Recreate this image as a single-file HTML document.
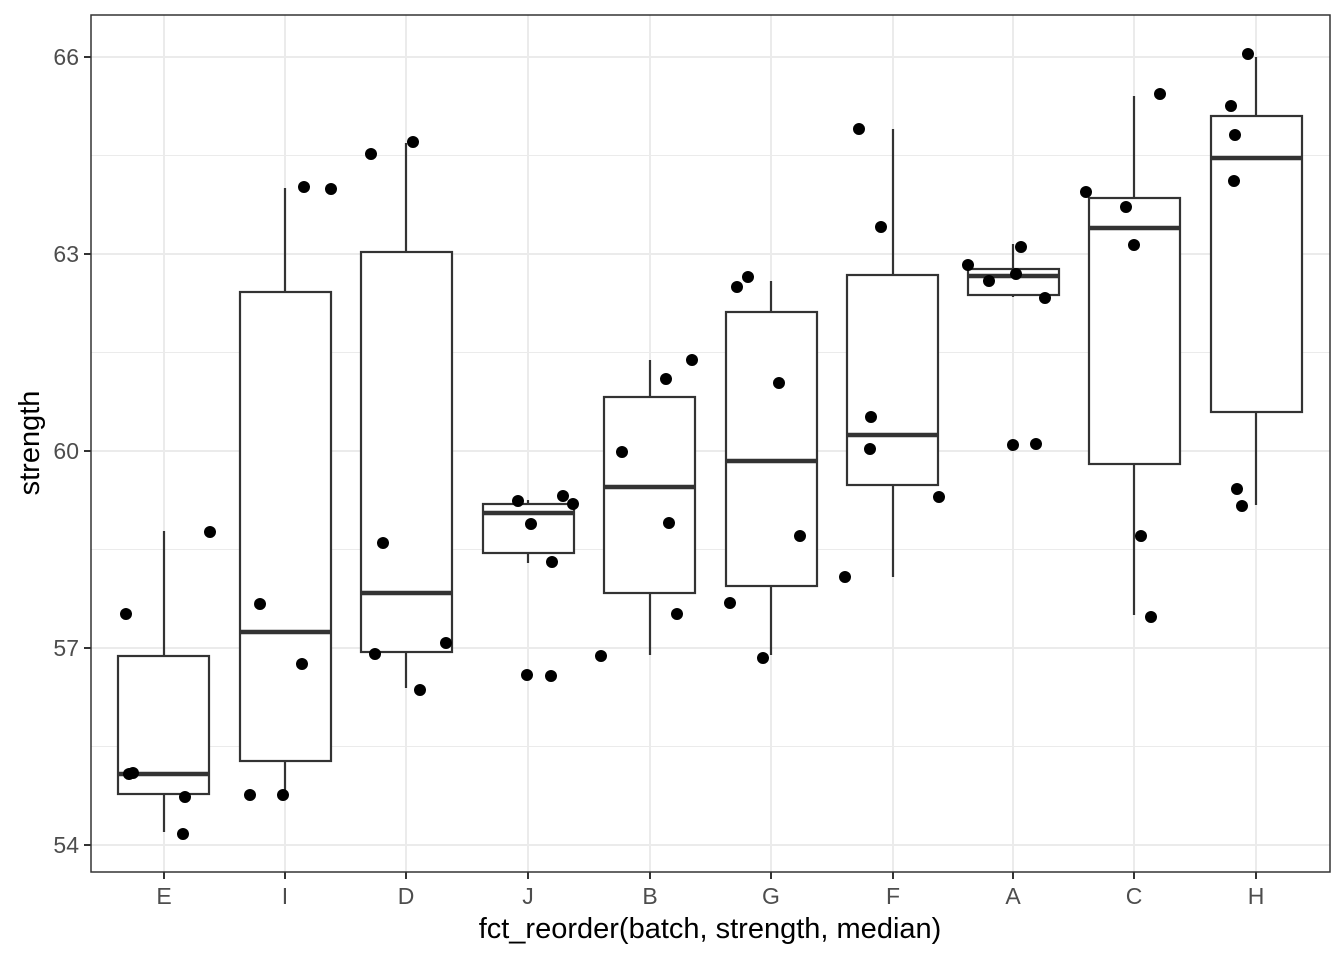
<!DOCTYPE html>
<html><head><style>body{margin:0;background:#fff}svg{display:block}</style></head><body>
<svg width="1344" height="960" xmlns="http://www.w3.org/2000/svg" font-family="Liberation Sans, sans-serif">
<rect width="1344" height="960" fill="#fff"/>
<g stroke="#ebebeb" stroke-width="1">
<line x1="91" x2="1330" y1="155.5" y2="155.5"/><line x1="91" x2="1330" y1="352.5" y2="352.5"/><line x1="91" x2="1330" y1="549.5" y2="549.5"/><line x1="91" x2="1330" y1="746.5" y2="746.5"/>
</g>
<g stroke="#ebebeb" stroke-width="2">
<line x1="91" x2="1330" y1="57" y2="57"/><line x1="91" x2="1330" y1="254" y2="254"/><line x1="91" x2="1330" y1="451" y2="451"/><line x1="91" x2="1330" y1="648" y2="648"/><line x1="91" x2="1330" y1="845" y2="845"/>
<line y1="15" y2="872" x1="164" x2="164"/><line y1="15" y2="872" x1="285" x2="285"/><line y1="15" y2="872" x1="406" x2="406"/><line y1="15" y2="872" x1="528" x2="528"/><line y1="15" y2="872" x1="650" x2="650"/><line y1="15" y2="872" x1="771" x2="771"/><line y1="15" y2="872" x1="893" x2="893"/><line y1="15" y2="872" x1="1013" x2="1013"/><line y1="15" y2="872" x1="1134" x2="1134"/><line y1="15" y2="872" x1="1256" x2="1256"/>
</g>
<g stroke="#333" stroke-width="2.2" fill="#fff">
<line x1="164" x2="164" y1="832" y2="531"/><rect x="118" y="656" width="91" height="138"/><line x1="118" x2="209" y1="774" y2="774" stroke-width="4.5"/>
<line x1="285" x2="285" y1="800" y2="188"/><rect x="240" y="292" width="91" height="469"/><line x1="240" x2="331" y1="632" y2="632" stroke-width="4.5"/>
<line x1="406" x2="406" y1="688" y2="143"/><rect x="361" y="252" width="91" height="400"/><line x1="361" x2="452" y1="593" y2="593" stroke-width="4.5"/>
<line x1="528" x2="528" y1="563" y2="500"/><rect x="483" y="504" width="91" height="49"/><line x1="483" x2="574" y1="513" y2="513" stroke-width="4.5"/>
<line x1="650" x2="650" y1="655" y2="360"/><rect x="604" y="397" width="91" height="196"/><line x1="604" x2="695" y1="487" y2="487" stroke-width="4.5"/>
<line x1="771" x2="771" y1="655" y2="281"/><rect x="726" y="312" width="91" height="274"/><line x1="726" x2="817" y1="461" y2="461" stroke-width="4.5"/>
<line x1="893" x2="893" y1="577" y2="129"/><rect x="847" y="275" width="91" height="210"/><line x1="847" x2="938" y1="435" y2="435" stroke-width="4.5"/>
<line x1="1013" x2="1013" y1="297" y2="244"/><rect x="968" y="269" width="91" height="26"/><line x1="968" x2="1059" y1="276" y2="276" stroke-width="4.5"/>
<line x1="1134" x2="1134" y1="615" y2="96"/><rect x="1089" y="198" width="91" height="266"/><line x1="1089" x2="1180" y1="228" y2="228" stroke-width="4.5"/>
<line x1="1256" x2="1256" y1="505" y2="57"/><rect x="1211" y="116" width="91" height="296"/><line x1="1211" x2="1302" y1="158" y2="158" stroke-width="4.5"/>
</g>
<g fill="#000">
<circle cx="126" cy="614" r="6"/><circle cx="129" cy="774" r="6"/><circle cx="133" cy="773" r="6"/><circle cx="185" cy="797" r="6"/><circle cx="183" cy="834" r="6"/><circle cx="210" cy="532" r="6"/>
<circle cx="250" cy="795" r="6"/><circle cx="283" cy="795" r="6"/><circle cx="260" cy="604" r="6"/><circle cx="302" cy="664" r="6"/><circle cx="304" cy="187" r="6"/><circle cx="331" cy="189" r="6"/>
<circle cx="371" cy="154" r="6"/><circle cx="413" cy="142" r="6"/><circle cx="383" cy="543" r="6"/><circle cx="375" cy="654" r="6"/><circle cx="420" cy="690" r="6"/><circle cx="446" cy="643" r="6"/>
<circle cx="518" cy="501" r="6"/><circle cx="531" cy="524" r="6"/><circle cx="563" cy="496" r="6"/><circle cx="573" cy="504" r="6"/><circle cx="552" cy="562" r="6"/><circle cx="527" cy="675" r="6"/><circle cx="551" cy="676" r="6"/>
<circle cx="622" cy="452" r="6"/><circle cx="666" cy="379" r="6"/><circle cx="692" cy="360" r="6"/><circle cx="669" cy="523" r="6"/><circle cx="677" cy="614" r="6"/><circle cx="601" cy="656" r="6"/>
<circle cx="737" cy="287" r="6"/><circle cx="748" cy="277" r="6"/><circle cx="779" cy="383" r="6"/><circle cx="800" cy="536" r="6"/><circle cx="730" cy="603" r="6"/><circle cx="763" cy="658" r="6"/>
<circle cx="859" cy="129" r="6"/><circle cx="881" cy="227" r="6"/><circle cx="871" cy="417" r="6"/><circle cx="870" cy="449" r="6"/><circle cx="939" cy="497" r="6"/><circle cx="845" cy="577" r="6"/>
<circle cx="968" cy="265" r="6"/><circle cx="989" cy="281" r="6"/><circle cx="1021" cy="247" r="6"/><circle cx="1016" cy="274" r="6"/><circle cx="1045" cy="298" r="6"/><circle cx="1013" cy="445" r="6"/><circle cx="1036" cy="444" r="6"/>
<circle cx="1086" cy="192" r="6"/><circle cx="1126" cy="207" r="6"/><circle cx="1134" cy="245" r="6"/><circle cx="1141" cy="536" r="6"/><circle cx="1151" cy="617" r="6"/><circle cx="1160" cy="94" r="6"/>
<circle cx="1248" cy="54" r="6"/><circle cx="1231" cy="106" r="6"/><circle cx="1235" cy="135" r="6"/><circle cx="1234" cy="181" r="6"/><circle cx="1237" cy="489" r="6"/><circle cx="1242" cy="506" r="6"/>
</g>
<rect x="91" y="15" width="1239" height="857" fill="none" stroke="#333" stroke-width="1.5"/>
<g stroke="#333" stroke-width="2">
<line x1="84" x2="91" y1="57" y2="57"/><line x1="84" x2="91" y1="254" y2="254"/><line x1="84" x2="91" y1="451" y2="451"/><line x1="84" x2="91" y1="648" y2="648"/><line x1="84" x2="91" y1="845" y2="845"/>
<line y1="872" y2="879" x1="164" x2="164"/><line y1="872" y2="879" x1="285" x2="285"/><line y1="872" y2="879" x1="406" x2="406"/><line y1="872" y2="879" x1="528" x2="528"/><line y1="872" y2="879" x1="650" x2="650"/><line y1="872" y2="879" x1="771" x2="771"/><line y1="872" y2="879" x1="893" x2="893"/><line y1="872" y2="879" x1="1013" x2="1013"/><line y1="872" y2="879" x1="1134" x2="1134"/><line y1="872" y2="879" x1="1256" x2="1256"/>
</g>
<g fill="#4d4d4d" font-size="23" text-anchor="end">
<text x="79" y="65">66</text><text x="79" y="262">63</text><text x="79" y="459">60</text><text x="79" y="656">57</text><text x="79" y="853">54</text>
</g>
<g fill="#4d4d4d" font-size="23" text-anchor="middle">
<text x="164" y="904">E</text><text x="285" y="904">I</text><text x="406" y="904">D</text><text x="528" y="904">J</text><text x="650" y="904">B</text><text x="771" y="904">G</text><text x="893" y="904">F</text><text x="1013" y="904">A</text><text x="1134" y="904">C</text><text x="1256" y="904">H</text>
</g>
<text x="710" y="938" font-size="29" text-anchor="middle" fill="#000">fct_reorder(batch, strength, median)</text>
<text transform="translate(39,443) rotate(-90)" font-size="29" text-anchor="middle" fill="#000">strength</text>
</svg>
</body></html>
